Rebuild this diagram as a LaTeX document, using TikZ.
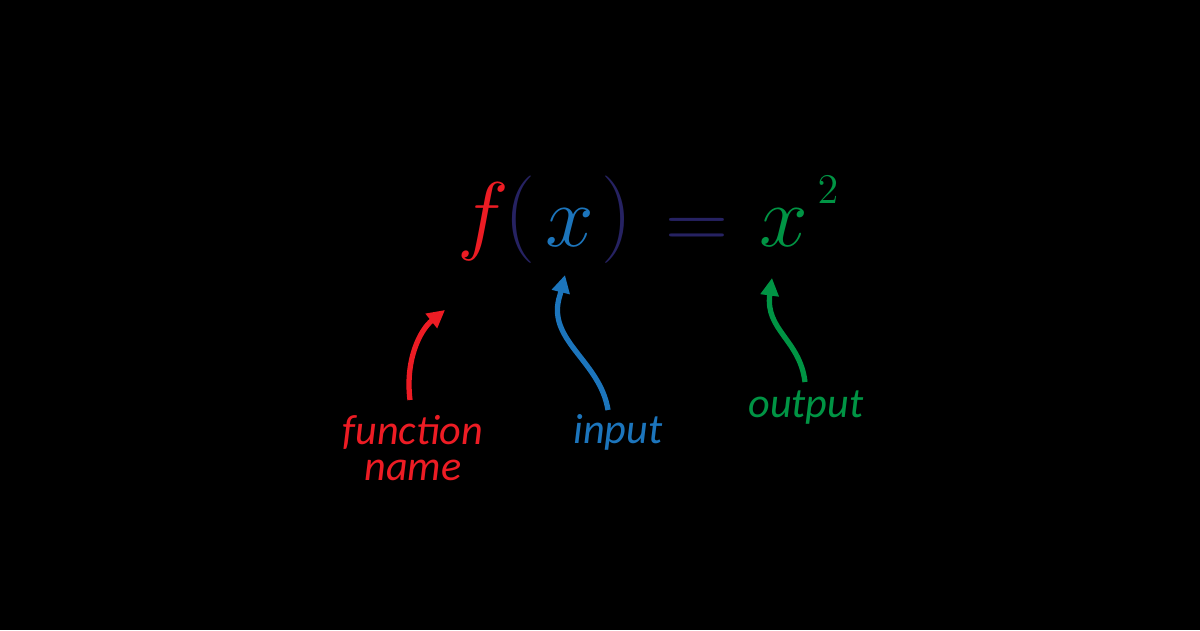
\documentclass[tikz,border=0pt]{standalone}
\usepackage{fontspec}
\setmainfont{Carlito}
\usetikzlibrary{arrows.meta}
\definecolor{fred}{HTML}{ED1C24}
\definecolor{fblue}{HTML}{1C75BC}
\definecolor{fgreen}{HTML}{009444}
\definecolor{fnavy}{HTML}{262262}
\tikzset{
  big/.style={inner sep=0pt, font=\fontsize{85}{85}\selectfont},
  lab/.style={inner sep=0pt, align=center, font=\fontsize{12}{10}\selectfont\itshape},
  arr/.style={line width=1.5pt, -{Triangle[length=5pt,width=5pt]}}
}
\begin{document}
\begin{tikzpicture}[x=0.01cm,y=-0.01cm]
\fill[black] (0,0) rectangle (1200,630);
\useasboundingbox (0,0) rectangle (1200,630);
\node[big, text=fred, font=\fontsize{92}{92}\selectfont] (f) at (483,222) {$f$};
\node[big, text=fnavy, font=\fontsize{135}{135}\selectfont] (lp) at (520,220) {$($};
\node[big, text=fblue] (x) at (570,228) {$x$};
\node[big, text=fnavy, font=\fontsize{135}{135}\selectfont] (rp) at (617,220) {$)$};
\node[big, text=fnavy, font=\fontsize{60}{60}\selectfont] (eq) at (697,234) {$=$};
\node[big, text=fgreen] (x2) at (784,228) {$x$};
\node[inner sep=0pt, text=fgreen, font=\fontsize{13}{13}\selectfont] (sq) at (828,190) {$2$};
\node[lab, text=fred] (fn) at (413,448) {function\\name};
\node[lab, text=fblue] (in) at (618,432) {input};
\node[lab, text=fgreen] (out) at (806,408) {output};
\coordinate (fa) at (410,400);
\coordinate (ia) at (608,410);
\coordinate (oa) at (805,382);
\draw[arr, fred] (fa) .. controls (405,360) and (420,330) .. (445,310);
\draw[arr, fblue] (ia) .. controls (600,360) and (545,340) .. (560,295) -- (565,275);
\draw[arr, fgreen] (oa) .. controls (800,340) and (765,330) .. (772,278);
\end{tikzpicture}
\end{document}
